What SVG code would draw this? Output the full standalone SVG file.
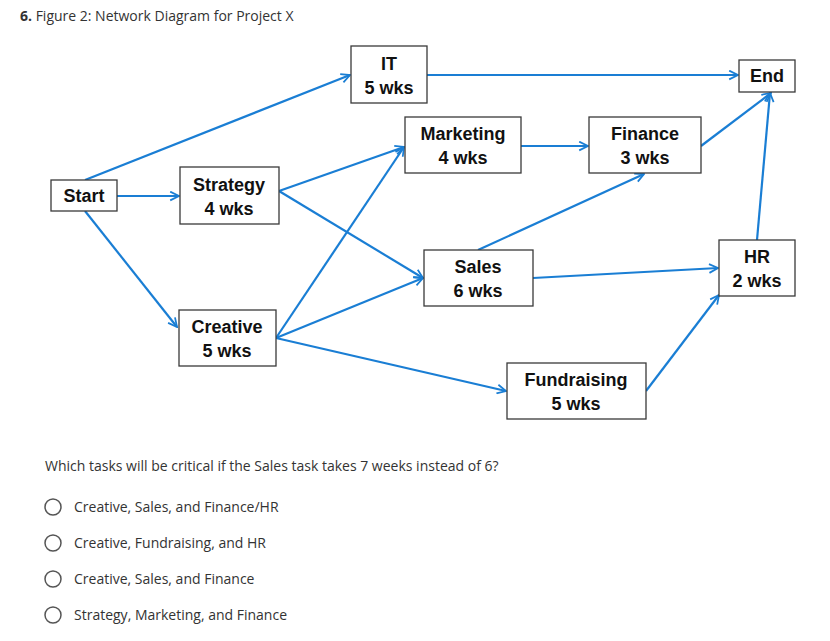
<svg xmlns="http://www.w3.org/2000/svg" width="830" height="641" viewBox="0 0 830 641">
<style>
.n rect{fill:#fff;stroke:#3a3a3a;stroke-width:1.3}
.n text{font-family:"Liberation Sans",Arial,sans-serif;font-weight:bold;font-size:18px;fill:#111;text-anchor:middle}
.e line{stroke:#1a7ed4;stroke-width:2.2;marker-end:url(#a)}
.q{font-family:"Open Sans","Noto Sans",sans-serif;font-size:14px;fill:#333}
.r{fill:#fff;stroke:#555;stroke-width:1.5}
</style>
<defs><marker id="a" viewBox="0 0 10 10" refX="9" refY="5" markerWidth="5" markerHeight="5" orient="auto" markerUnits="strokeWidth"><path d="M1,1 L9,5 L1,9" fill="none" stroke="#1a7ed4" stroke-width="1.6"/></marker></defs>
<rect width="830" height="641" fill="#fff"/>
<text x="20" y="21" class="q"><tspan font-weight="bold">6.</tspan>  Figure 2: Network Diagram for Project X</text>
<g class="e">
<line x1="85" y1="180" x2="350" y2="75"/>
<line x1="117" y1="196" x2="179" y2="196"/>
<line x1="85" y1="211" x2="177" y2="327"/>
<line x1="279" y1="191" x2="404" y2="147"/>
<line x1="279" y1="191" x2="423" y2="278"/>
<line x1="276" y1="338" x2="404" y2="147"/>
<line x1="276" y1="338" x2="423" y2="278"/>
<line x1="276" y1="338" x2="506" y2="391"/>
<line x1="427" y1="75" x2="738" y2="75"/>
<line x1="521" y1="146" x2="588" y2="146"/>
<line x1="701" y1="146" x2="771" y2="93"/>
<line x1="478" y1="250" x2="644" y2="174"/>
<line x1="533" y1="278" x2="718" y2="268"/>
<line x1="757" y1="240" x2="770" y2="93"/>
<line x1="646" y1="391" x2="719" y2="295"/>
</g>
<g id="start" class="n"><rect x="51" y="180" width="66" height="31"/><text x="84" y="202">Start</text></g>
<g id="strategy" class="n"><rect x="180" y="167" width="99" height="57"/><text x="229" y="191">Strategy</text><text x="229" y="215">4 wks</text></g>
<g id="it" class="n"><rect x="351" y="46" width="76" height="57"/><text x="389" y="70">IT</text><text x="389" y="94">5 wks</text></g>
<g id="marketing" class="n"><rect x="405" y="117" width="116" height="56"/><text x="463" y="140">Marketing</text><text x="463" y="164">4 wks</text></g>
<g id="finance" class="n"><rect x="589" y="117" width="112" height="56"/><text x="645" y="140" font-weight="normal">Finance</text><text x="645" y="164">3 wks</text></g>
<g id="sales" class="n"><rect x="424" y="250" width="109" height="56"/><text x="478" y="273">Sales</text><text x="478" y="297">6 wks</text></g>
<g id="end" class="n"><rect x="739" y="60" width="56" height="32"/><text x="767" y="82">End</text></g>
<g id="hr" class="n"><rect x="719" y="240" width="76" height="56"/><text x="757" y="263">HR</text><text x="757" y="287">2 wks</text></g>
<g id="creative" class="n"><rect x="179" y="310" width="97" height="56"/><text x="227" y="333">Creative</text><text x="227" y="357">5 wks</text></g>
<g id="fundraising" class="n"><rect x="507" y="363" width="139" height="56"/><text x="576" y="386">Fundraising</text><text x="576" y="410">5 wks</text></g>
<text x="45" y="471" class="q">Which tasks will be critical if the Sales task takes 7 weeks instead of 6?</text>
<circle class="r" cx="53" cy="507" r="8"/><text x="74" y="512" class="q">Creative, Sales, and Finance/HR</text>
<circle class="r" cx="53" cy="543" r="8"/><text x="74" y="548" class="q">Creative, Fundraising, and HR</text>
<circle class="r" cx="53" cy="579" r="8"/><text x="74" y="584" class="q">Creative, Sales, and Finance</text>
<circle class="r" cx="53" cy="615" r="8"/><text x="74" y="620" class="q">Strategy, Marketing, and Finance</text>
</svg>
